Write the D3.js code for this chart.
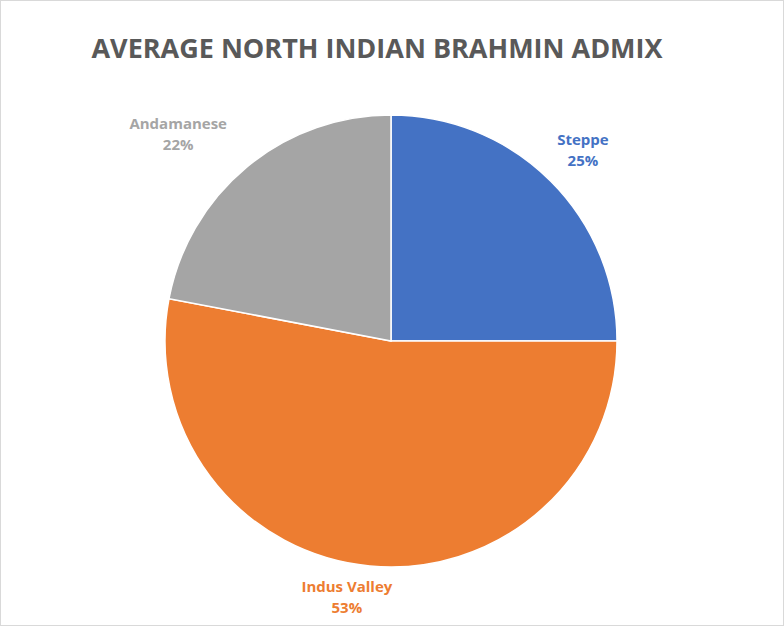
<!DOCTYPE html>
<html>
<head>
<meta charset="utf-8">
<script src="https://cdn.jsdelivr.net/npm/d3@7"></script>
<style>
  body { margin: 0; background: #fff; }
  svg { display: block; }
</style>
</head>
<body>
<svg id="drawing_region"></svg>
<script>
const categories = ['Steppe', 'Indus Valley', 'Andamanese'];
const values = [25, 53, 22];
const colors = ['#4472c4', '#ed7d31', '#a5a5a5'];
const labelColors = ['#4472c4', '#ed7d31', '#a5a5a5'];

const width = 784, height = 626;
const cx = 391, cy = 341, radius = 226;

const svg = d3.select('#drawing_region')
    .attr('width', width)
    .attr('height', height);

svg.append('rect')
    .attr('x', 0.5).attr('y', 0.5)
    .attr('width', width - 1).attr('height', height - 1)
    .attr('fill', '#fff')
    .attr('stroke', '#d9d9d9');

svg.append('text')
    .attr('x', 377).attr('y', 58)
    .attr('text-anchor', 'middle')
    .attr('font-family', 'Open Sans, sans-serif')
    .attr('font-size', 27)
    .attr('font-weight', 'bold')
    .attr('fill', '#595959')
    .text('AVERAGE NORTH INDIAN BRAHMIN ADMIX');

const data = categories.map((c, i) => ({ name: c, value: values[i], color: colors[i], label: labelColors[i] }));

const pie = d3.pie().sort(null).value(d => d.value);
const arc = d3.arc().innerRadius(0).outerRadius(radius);

const chart = svg.append('g')
    .attr('transform', `translate(${cx}, ${cy})`);

const arcs = pie(data);

chart.selectAll('path')
    .data(arcs)
    .enter()
    .append('path')
    .attr('d', arc)
    .attr('fill', d => d.data.color)
    .attr('stroke', '#fff')
    .style('stroke-width', '1.5px');

// labels outside the pie, nudged from the slice's mid angle
const labelArc = d3.arc().innerRadius(radius + 20).outerRadius(radius + 20);
const labelOffsets = { 'Steppe': [18, -22], 'Indus Valley': [-21, 6], 'Andamanese': [-56, -22] };

const labels = chart.selectAll('text.lbl')
    .data(arcs)
    .enter()
    .append('text')
    .attr('class', 'lbl')
    .attr('text-anchor', 'middle')
    .attr('font-family', 'Open Sans, sans-serif')
    .attr('font-size', 15)
    .attr('font-weight', 'bold')
    .attr('fill', d => d.data.label)
    .attr('transform', d => {
        const [x, y] = labelArc.centroid(d);
        const off = labelOffsets[d.data.name];
        return `translate(${x + off[0]}, ${y + off[1]})`;
    });

labels.append('tspan').attr('x', 0).attr('dy', 0).text(d => d.data.name);
labels.append('tspan').attr('x', 0).attr('dy', 21).text(d => d.data.value + '%');
</script>
</body>
</html>
